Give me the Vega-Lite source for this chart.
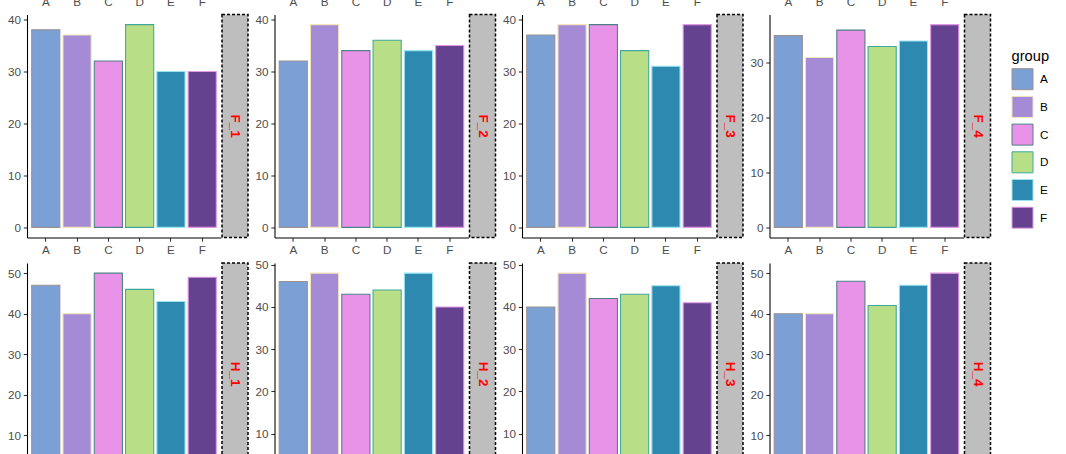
{
  "$schema": "https://vega.github.io/schema/vega-lite/v6.json",
  "padding": {"left": 7, "top": -4.5, "right": 0, "bottom": 0},
  "data": {"values": [
    {"panel": "F_1", "group": "A", "value": 38}, {"panel": "F_1", "group": "B", "value": 37}, {"panel": "F_1", "group": "C", "value": 32}, {"panel": "F_1", "group": "D", "value": 39}, {"panel": "F_1", "group": "E", "value": 30}, {"panel": "F_1", "group": "F", "value": 30},
    {"panel": "F_2", "group": "A", "value": 32}, {"panel": "F_2", "group": "B", "value": 39}, {"panel": "F_2", "group": "C", "value": 34}, {"panel": "F_2", "group": "D", "value": 36}, {"panel": "F_2", "group": "E", "value": 34}, {"panel": "F_2", "group": "F", "value": 35},
    {"panel": "F_3", "group": "A", "value": 37}, {"panel": "F_3", "group": "B", "value": 39}, {"panel": "F_3", "group": "C", "value": 39}, {"panel": "F_3", "group": "D", "value": 34}, {"panel": "F_3", "group": "E", "value": 31}, {"panel": "F_3", "group": "F", "value": 39},
    {"panel": "F_4", "group": "A", "value": 35}, {"panel": "F_4", "group": "B", "value": 31}, {"panel": "F_4", "group": "C", "value": 36}, {"panel": "F_4", "group": "D", "value": 33}, {"panel": "F_4", "group": "E", "value": 34}, {"panel": "F_4", "group": "F", "value": 37},
    {"panel": "H_1", "group": "A", "value": 47}, {"panel": "H_1", "group": "B", "value": 40}, {"panel": "H_1", "group": "C", "value": 50}, {"panel": "H_1", "group": "D", "value": 46}, {"panel": "H_1", "group": "E", "value": 43}, {"panel": "H_1", "group": "F", "value": 49},
    {"panel": "H_2", "group": "A", "value": 46}, {"panel": "H_2", "group": "B", "value": 48}, {"panel": "H_2", "group": "C", "value": 43}, {"panel": "H_2", "group": "D", "value": 44}, {"panel": "H_2", "group": "E", "value": 48}, {"panel": "H_2", "group": "F", "value": 40},
    {"panel": "H_3", "group": "A", "value": 40}, {"panel": "H_3", "group": "B", "value": 48}, {"panel": "H_3", "group": "C", "value": 42}, {"panel": "H_3", "group": "D", "value": 43}, {"panel": "H_3", "group": "E", "value": 45}, {"panel": "H_3", "group": "F", "value": 41},
    {"panel": "H_4", "group": "A", "value": 40}, {"panel": "H_4", "group": "B", "value": 40}, {"panel": "H_4", "group": "C", "value": 48}, {"panel": "H_4", "group": "D", "value": 42}, {"panel": "H_4", "group": "E", "value": 47}, {"panel": "H_4", "group": "F", "value": 50}
  ]},
  "spacing": 2.5,
  "resolve": {"scale": {"x": "independent", "y": "independent", "fill": "shared", "stroke": "shared"}},
  "vconcat": [
    {
      "spacing": 5.5,
      "resolve": {"scale": {"x": "independent", "y": "independent"}},
      "hconcat": [
        {"spacing": 0, "resolve": {"scale": {"x": "independent", "y": "independent"}}, "hconcat": [
          {"width": 194, "height": 223, "transform": [{"filter": "datum.panel === 'F_1'"}],
           "layer": [
             {"mark": {"type": "bar", "strokeWidth": 1.07},
              "encoding": {
                "x": {"field": "group", "type": "nominal", "scale": {"paddingInner": 0.1, "paddingOuter": 0.15}, "axis": {"orient": "bottom"}},
                "y": {"field": "value", "type": "quantitative", "scale": {"domain": [-1.95, 40.95], "nice": false, "zero": false}, "axis": {"tickCount": 5}},
                "y2": {"datum": 0},
                "fill": {"field": "group", "type": "nominal", "title": "group", "scale": {"domain": ["A","B","C","D","E","F"], "range": ["#7BA0D6","#A58AD5","#E893E8","#B8DF87","#2D89B0","#654290"]}},
                "stroke": {"field": "group", "type": "nominal", "title": "group", "scale": {"domain": ["A","B","C","D","E","F"], "range": ["#9C9090","#F0E4B8","#4E8085","#40A89A","#9AE4F2","#E29AE6"]}}
              }},
             {"mark": {"type": "tick", "opacity": 0},
              "encoding": {"x": {"field": "group", "type": "nominal", "axis": {"orient": "top", "domain": false, "ticks": false, "labelPadding": 7.5}}}}
           ],
           "resolve": {"axis": {"x": "independent"}}},
          {"width": 26, "height": 223, "view": {"fill": "#BEBEBE", "stroke": "black", "strokeDash": [3, 2], "strokeWidth": 1.5},
           "transform": [{"filter": "datum.panel === 'F_1' && datum.group === 'A'"}],
           "mark": {"type": "text", "angle": 90, "color": "red", "fontSize": 13.5, "fontWeight": "bold"},
           "encoding": {"text": {"field": "panel"}}}
        ]},
        {"spacing": 0, "resolve": {"scale": {"x": "independent", "y": "independent"}}, "hconcat": [
          {"width": 194, "height": 223, "transform": [{"filter": "datum.panel === 'F_2'"}],
           "layer": [
             {"mark": {"type": "bar", "strokeWidth": 1.07},
              "encoding": {
                "x": {"field": "group", "type": "nominal", "scale": {"paddingInner": 0.1, "paddingOuter": 0.15}, "axis": {"orient": "bottom"}},
                "y": {"field": "value", "type": "quantitative", "scale": {"domain": [-1.95, 40.95], "nice": false, "zero": false}, "axis": {"tickCount": 5}},
                "y2": {"datum": 0},
                "fill": {"field": "group", "type": "nominal", "title": "group", "scale": {"domain": ["A","B","C","D","E","F"], "range": ["#7BA0D6","#A58AD5","#E893E8","#B8DF87","#2D89B0","#654290"]}},
                "stroke": {"field": "group", "type": "nominal", "title": "group", "scale": {"domain": ["A","B","C","D","E","F"], "range": ["#9C9090","#F0E4B8","#4E8085","#40A89A","#9AE4F2","#E29AE6"]}}
              }},
             {"mark": {"type": "tick", "opacity": 0},
              "encoding": {"x": {"field": "group", "type": "nominal", "axis": {"orient": "top", "domain": false, "ticks": false, "labelPadding": 7.5}}}}
           ],
           "resolve": {"axis": {"x": "independent"}}},
          {"width": 26, "height": 223, "view": {"fill": "#BEBEBE", "stroke": "black", "strokeDash": [3, 2], "strokeWidth": 1.5},
           "transform": [{"filter": "datum.panel === 'F_2' && datum.group === 'A'"}],
           "mark": {"type": "text", "angle": 90, "color": "red", "fontSize": 13.5, "fontWeight": "bold"},
           "encoding": {"text": {"field": "panel"}}}
        ]},
        {"spacing": 0, "resolve": {"scale": {"x": "independent", "y": "independent"}}, "hconcat": [
          {"width": 194, "height": 223, "transform": [{"filter": "datum.panel === 'F_3'"}],
           "layer": [
             {"mark": {"type": "bar", "strokeWidth": 1.07},
              "encoding": {
                "x": {"field": "group", "type": "nominal", "scale": {"paddingInner": 0.1, "paddingOuter": 0.15}, "axis": {"orient": "bottom"}},
                "y": {"field": "value", "type": "quantitative", "scale": {"domain": [-1.95, 40.95], "nice": false, "zero": false}, "axis": {"tickCount": 5}},
                "y2": {"datum": 0},
                "fill": {"field": "group", "type": "nominal", "title": "group", "scale": {"domain": ["A","B","C","D","E","F"], "range": ["#7BA0D6","#A58AD5","#E893E8","#B8DF87","#2D89B0","#654290"]}},
                "stroke": {"field": "group", "type": "nominal", "title": "group", "scale": {"domain": ["A","B","C","D","E","F"], "range": ["#9C9090","#F0E4B8","#4E8085","#40A89A","#9AE4F2","#E29AE6"]}}
              }},
             {"mark": {"type": "tick", "opacity": 0},
              "encoding": {"x": {"field": "group", "type": "nominal", "axis": {"orient": "top", "domain": false, "ticks": false, "labelPadding": 7.5}}}}
           ],
           "resolve": {"axis": {"x": "independent"}}},
          {"width": 26, "height": 223, "view": {"fill": "#BEBEBE", "stroke": "black", "strokeDash": [3, 2], "strokeWidth": 1.5},
           "transform": [{"filter": "datum.panel === 'F_3' && datum.group === 'A'"}],
           "mark": {"type": "text", "angle": 90, "color": "red", "fontSize": 13.5, "fontWeight": "bold"},
           "encoding": {"text": {"field": "panel"}}}
        ]},
        {"spacing": 0, "resolve": {"scale": {"x": "independent", "y": "independent"}}, "hconcat": [
          {"width": 194, "height": 223, "transform": [{"filter": "datum.panel === 'F_4'"}],
           "layer": [
             {"mark": {"type": "bar", "strokeWidth": 1.07},
              "encoding": {
                "x": {"field": "group", "type": "nominal", "scale": {"paddingInner": 0.1, "paddingOuter": 0.15}, "axis": {"orient": "bottom"}},
                "y": {"field": "value", "type": "quantitative", "scale": {"domain": [-1.85, 38.85], "nice": false, "zero": false}, "axis": {"tickCount": 5}},
                "y2": {"datum": 0},
                "fill": {"field": "group", "type": "nominal", "title": "group", "scale": {"domain": ["A","B","C","D","E","F"], "range": ["#7BA0D6","#A58AD5","#E893E8","#B8DF87","#2D89B0","#654290"]}},
                "stroke": {"field": "group", "type": "nominal", "title": "group", "scale": {"domain": ["A","B","C","D","E","F"], "range": ["#9C9090","#F0E4B8","#4E8085","#40A89A","#9AE4F2","#E29AE6"]}}
              }},
             {"mark": {"type": "tick", "opacity": 0},
              "encoding": {"x": {"field": "group", "type": "nominal", "axis": {"orient": "top", "domain": false, "ticks": false, "labelPadding": 7.5}}}}
           ],
           "resolve": {"axis": {"x": "independent"}}},
          {"width": 26, "height": 223, "view": {"fill": "#BEBEBE", "stroke": "black", "strokeDash": [3, 2], "strokeWidth": 1.5},
           "transform": [{"filter": "datum.panel === 'F_4' && datum.group === 'A'"}],
           "mark": {"type": "text", "angle": 90, "color": "red", "fontSize": 13.5, "fontWeight": "bold"},
           "encoding": {"text": {"field": "panel"}}}
        ]}
      ]
    },
    {
      "spacing": 5.5,
      "resolve": {"scale": {"x": "independent", "y": "independent"}},
      "hconcat": [
        {"spacing": 0, "resolve": {"scale": {"x": "independent", "y": "independent"}}, "hconcat": [
          {"width": 194, "height": 192, "transform": [{"filter": "datum.panel === 'H_1'"}],
           "mark": {"type": "bar", "strokeWidth": 1.07, "clip": true},
           "encoding": {
             "x": {"field": "group", "type": "nominal", "scale": {"paddingInner": 0.1, "paddingOuter": 0.15}, "axis": null},
             "y": {"field": "value", "type": "quantitative", "scale": {"domain": [5.15, 52.5], "nice": false, "zero": false}, "axis": {"tickCount": 5}},
             "y2": {"datum": 0},
             "fill": {"field": "group", "type": "nominal", "title": "group", "scale": {"domain": ["A","B","C","D","E","F"], "range": ["#7BA0D6","#A58AD5","#E893E8","#B8DF87","#2D89B0","#654290"]}},
             "stroke": {"field": "group", "type": "nominal", "title": "group", "scale": {"domain": ["A","B","C","D","E","F"], "range": ["#9C9090","#F0E4B8","#4E8085","#40A89A","#9AE4F2","#E29AE6"]}}
           }},
          {"width": 26, "height": 192, "view": {"fill": "#BEBEBE", "stroke": "black", "strokeDash": [3, 2], "strokeWidth": 1.5},
           "transform": [{"filter": "datum.panel === 'H_1' && datum.group === 'A'"}],
           "mark": {"type": "text", "angle": 90, "color": "red", "fontSize": 13.5, "fontWeight": "bold", "dx": 15},
           "encoding": {"text": {"field": "panel"}}}
        ]},
        {"spacing": 0, "resolve": {"scale": {"x": "independent", "y": "independent"}}, "hconcat": [
          {"width": 194, "height": 192, "transform": [{"filter": "datum.panel === 'H_2'"}],
           "mark": {"type": "bar", "strokeWidth": 1.07, "clip": true},
           "encoding": {
             "x": {"field": "group", "type": "nominal", "scale": {"paddingInner": 0.1, "paddingOuter": 0.15}, "axis": null},
             "y": {"field": "value", "type": "quantitative", "scale": {"domain": [4.94, 50.4], "nice": false, "zero": false}, "axis": {"tickCount": 5}},
             "y2": {"datum": 0},
             "fill": {"field": "group", "type": "nominal", "title": "group", "scale": {"domain": ["A","B","C","D","E","F"], "range": ["#7BA0D6","#A58AD5","#E893E8","#B8DF87","#2D89B0","#654290"]}},
             "stroke": {"field": "group", "type": "nominal", "title": "group", "scale": {"domain": ["A","B","C","D","E","F"], "range": ["#9C9090","#F0E4B8","#4E8085","#40A89A","#9AE4F2","#E29AE6"]}}
           }},
          {"width": 26, "height": 192, "view": {"fill": "#BEBEBE", "stroke": "black", "strokeDash": [3, 2], "strokeWidth": 1.5},
           "transform": [{"filter": "datum.panel === 'H_2' && datum.group === 'A'"}],
           "mark": {"type": "text", "angle": 90, "color": "red", "fontSize": 13.5, "fontWeight": "bold", "dx": 15},
           "encoding": {"text": {"field": "panel"}}}
        ]},
        {"spacing": 0, "resolve": {"scale": {"x": "independent", "y": "independent"}}, "hconcat": [
          {"width": 194, "height": 192, "transform": [{"filter": "datum.panel === 'H_3'"}],
           "mark": {"type": "bar", "strokeWidth": 1.07, "clip": true},
           "encoding": {
             "x": {"field": "group", "type": "nominal", "scale": {"paddingInner": 0.1, "paddingOuter": 0.15}, "axis": null},
             "y": {"field": "value", "type": "quantitative", "scale": {"domain": [4.94, 50.4], "nice": false, "zero": false}, "axis": {"tickCount": 5}},
             "y2": {"datum": 0},
             "fill": {"field": "group", "type": "nominal", "title": "group", "scale": {"domain": ["A","B","C","D","E","F"], "range": ["#7BA0D6","#A58AD5","#E893E8","#B8DF87","#2D89B0","#654290"]}},
             "stroke": {"field": "group", "type": "nominal", "title": "group", "scale": {"domain": ["A","B","C","D","E","F"], "range": ["#9C9090","#F0E4B8","#4E8085","#40A89A","#9AE4F2","#E29AE6"]}}
           }},
          {"width": 26, "height": 192, "view": {"fill": "#BEBEBE", "stroke": "black", "strokeDash": [3, 2], "strokeWidth": 1.5},
           "transform": [{"filter": "datum.panel === 'H_3' && datum.group === 'A'"}],
           "mark": {"type": "text", "angle": 90, "color": "red", "fontSize": 13.5, "fontWeight": "bold", "dx": 15},
           "encoding": {"text": {"field": "panel"}}}
        ]},
        {"spacing": 0, "resolve": {"scale": {"x": "independent", "y": "independent"}}, "hconcat": [
          {"width": 194, "height": 192, "transform": [{"filter": "datum.panel === 'H_4'"}],
           "mark": {"type": "bar", "strokeWidth": 1.07, "clip": true},
           "encoding": {
             "x": {"field": "group", "type": "nominal", "scale": {"paddingInner": 0.1, "paddingOuter": 0.15}, "axis": null},
             "y": {"field": "value", "type": "quantitative", "scale": {"domain": [5.15, 52.5], "nice": false, "zero": false}, "axis": {"tickCount": 5}},
             "y2": {"datum": 0},
             "fill": {"field": "group", "type": "nominal", "title": "group", "scale": {"domain": ["A","B","C","D","E","F"], "range": ["#7BA0D6","#A58AD5","#E893E8","#B8DF87","#2D89B0","#654290"]}},
             "stroke": {"field": "group", "type": "nominal", "title": "group", "scale": {"domain": ["A","B","C","D","E","F"], "range": ["#9C9090","#F0E4B8","#4E8085","#40A89A","#9AE4F2","#E29AE6"]}}
           }},
          {"width": 26, "height": 192, "view": {"fill": "#BEBEBE", "stroke": "black", "strokeDash": [3, 2], "strokeWidth": 1.5},
           "transform": [{"filter": "datum.panel === 'H_4' && datum.group === 'A'"}],
           "mark": {"type": "text", "angle": 90, "color": "red", "fontSize": 13.5, "fontWeight": "bold", "dx": 15},
           "encoding": {"text": {"field": "panel"}}}
        ]}
      ]
    }
  ],
  "config": {
    "font": "Liberation Sans",
    "view": {"stroke": null},
    "axis": {"grid": false, "title": null, "labelFontSize": 11.7, "labelColor": "#4D4D4D", "tickColor": "#333333", "tickSize": 3.7, "tickWidth": 1.07, "domainColor": "black", "domainWidth": 1.07, "labelPadding": 2.9, "labelFont": "Liberation Sans"},
    "axisX": {"labelAngle": 0},
    "legend": {"orient": "none", "legendX": 984.5, "legendY": 34, "padding": 0, "titleFontSize": 14.7, "titleFontWeight": "normal", "titleColor": "black", "titleFont": "Liberation Sans", "labelFont": "Liberation Sans", "labelFontSize": 11.7, "labelColor": "black", "symbolType": "square", "symbolSize": 441, "symbolStrokeWidth": 1, "rowPadding": 1.7, "labelOffset": 6.5, "titlePadding": 5}
  }
}
